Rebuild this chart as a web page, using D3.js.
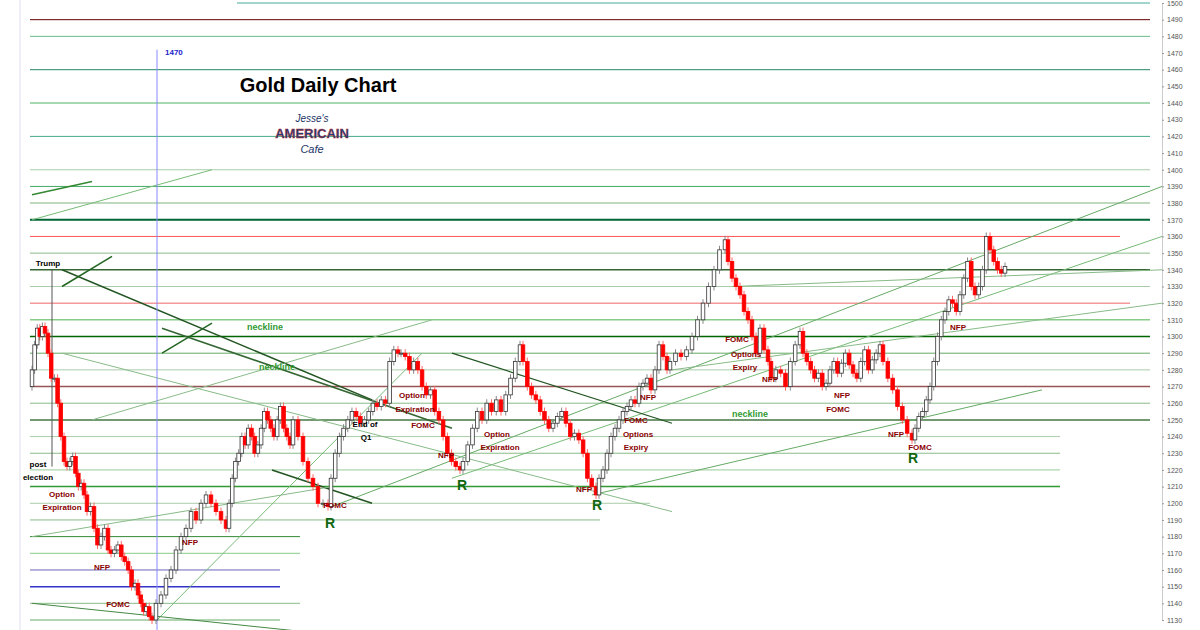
<!DOCTYPE html>
<html><head><meta charset="utf-8">
<script src="https://cdn.jsdelivr.net/npm/d3@7"></script>
<style>body{margin:0;background:#fff}svg{display:block;font-family:Arial,"Liberation Sans",sans-serif}</style>
</head><body>
<svg id="c" width="1200" height="630"></svg>
<script>
// segments of daily closes: [startX, endX (chart units), closes]
const segments = [
[0,13,[1280,1295,1305,1300,1306,1302]],
[16,32,[1290,1275,1275,1260,1240,1225]],
[35,52,[1222,1225,1228,1218,1210,1212,1205]],
[55,76,[1195,1198,1185,1175,1180,1185,1172]],
[79,103,[1170,1172,1175,1168,1165,1160,1150,1152]],
[106,120,[1145,1140,1135,1138,1132,1130]],
[124,194,[1140,1145,1155,1160,1172,1180,1185,1195,1190,1200,1205,1200,1195,1190,1185]],
[197,258,[1200,1215,1225,1230,1240,1235,1245,1240,1230,1235,1245,1255,1250,1245,1240,1250,1258,1245,1240,1235]],
[261,296,[1250,1240,1225,1215,1210,1200,1200,1198]],
[299,366,[1215,1230,1240,1245,1250,1255,1252,1248,1250,1255,1260,1258,1262,1260,1285,1292,1290]],
[369,428,[1290,1288,1280,1285,1280,1270,1265,1268,1255,1250,1240,1230,1225,1222,1220]],
[431,488,[1225,1235,1245,1255,1250,1260,1255,1262,1255,1265,1275,1285,1295]],
[491,564,[1285,1270,1265,1262,1255,1250,1245,1248,1252,1255,1248,1240,1242,1238,1230,1215,1210,1205]],
[567,635,[1215,1220,1230,1240,1245,1250,1255,1258,1262,1260,1270,1272,1275,1268,1280,1295,1288,1280]],
[638,693,[1285,1290,1288,1292,1300,1310,1320,1330,1340,1352,1358]],
[696,736,[1345,1335,1330,1325,1315,1310,1300,1290,1305,1292,1285]],
[739,768,[1275,1280,1278,1270,1285,1295,1303]],
[771,848,[1290,1285,1280,1275,1278,1270,1272,1280,1285,1278,1284,1290,1283,1278,1275,1285,1292,1280,1286,1290,1295]],
[851,880,[1285,1275,1268,1258,1250,1242,1238]],
[883,973,[1245,1252,1255,1262,1270,1285,1300,1310,1315,1322,1320,1315,1325,1335,1345,1330,1325,1330,1340,1360,1352,1345,1340,1338,1342]]];
const firstOpen = 1270;
const ticks = d3.range(1130,1501,10);
const hLines = [
[1500,"#4a9",1,237,1150],[1490,"#600",1,30,1150],[1480,"#6b8",1,30,1150],[1460,"#286",1,30,1150],
[1440,"#8c9",1.5,30,1150],[1420,"#4a8",1,30,1150],[1400,"#aca",1,30,1150],[1390,"#4a6",1,30,1150],
[1380,"#aca",1.5,30,1150],[1370,"#063",2,30,1150],[1360,"#f55",1,30,1120],[1350,"#8b8",1,30,1150],
[1340,"#363",1.5,30,1150],[1330,"#aca",1,30,1150],[1320,"#e66",1,30,1130],[1310,"#8c8",1.5,30,1150],
[1300,"#060",1.5,30,1150],[1290,"#6a6",1,30,1150],[1280,"#aca",1,30,1150],[1270,"#955",1.5,30,1150],
[1260,"#8b8",1,30,1150],[1250,"#474",1.5,30,1150],[1240,"#aca",1,30,1060],[1230,"#8b8",1,30,1060],
[1220,"#9c9",1,30,1060],[1210,"#393",1.5,30,1060],[1200,"#aca",1,30,650],[1190,"#8b8",1,30,600],
[1180,"#383",1,30,300],[1170,"#8c8",1,30,300],[1160,"#66b",1,30,280],[1150,"#33c",1.5,30,280],
[1140,"#8b8",1,30,300],[1130,"#6a6",1,30,280]];
const tLines = [
[300,1198,1130,1390,"#6a6",1],[125,1130,390,1290,"#7b7",1],[420,1215,1130,1360,"#7b7",1],
[560,1205,1010,1268,"#6a6",1],[640,1280,1130,1320,"#8b8",1],[700,1330,1130,1340,"#8b8",1],
[30,1340,340,1262,"#252",1.5],[130,1305,420,1245,"#363",1.5],[30,1290,640,1195,"#8b8",1],
[0,1370,180,1400,"#7b7",1],[240,1220,340,1200,"#252",1.5],
[60,1250,400,1310,"#8b8",1],[420,1290,640,1248,"#252",1.2],[0,1180,300,1210,"#8b8",1],
[0,1140,320,1120,"#484",1],[0,1385,60,1393,"#383",1.5],[30,1330,80,1348,"#262",1.5],[130,1290,180,1308,"#262",1.5]];
const notes = [
["Trump",48,1342,"#000",8],["post",38,1222,"#000",8],["election",38,1214,"#000",8],
["Option",62,1204,"#800",8],["Expiration",62,1196,"#800",8],["NFP",102,1160,"#800",8],
["FOMC",118,1138,"#800",8],["NFP",190,1175,"#800",8],["FOMC",335,1197,"#800",8],
["End of",365,1246,"#000",8],["Q1",366,1238,"#000",8],["Option",412,1263,"#800",8],["Expiration",415,1255,"#800",8],
["FOMC",423,1245,"#800",8],["NFP",446,1227,"#800",8],["Option",497,1240,"#800",8],["Expiration",500,1232,"#800",8],
["NFP",584,1207,"#800",8],["FOMC",636,1248,"#800",8],["Options",638,1240,"#800",8],["Expiry",636,1232,"#800",8],
["NFP",648,1262,"#800",8],["FOMC",737,1297,"#800",8],["Options",746,1288,"#800",8],["Expiry",745,1280,"#800",8],
["NFP",770,1273,"#800",8],["NFP",842,1263,"#800",8],["FOMC",838,1255,"#800",8],["NFP",896,1240,"#800",8],
["FOMC",920,1232,"#800",8],["NFP",958,1304,"#800",8],
["neckline",265,1304,"#393",9],["neckline",277,1280,"#393",9],["neckline",750,1252,"#393",9],
["R",330,1185,"#161",14],["R",462,1208,"#161",14],["R",597,1196,"#161",14],["R",913,1224,"#161",14]];

const svg = d3.select("#c");
const y = d3.scaleLinear().domain([1130,1500]).range([620,3]);
const x = d3.scaleLinear().domain([0,1000]).range([32,1032]);

svg.append("line").attr("x1",20).attr("x2",20).attr("y1",0).attr("y2",630).attr("stroke","#dde");
svg.selectAll(".h").data(hLines).join("line")
 .attr("x1",d=>d[3]).attr("x2",d=>d[4]).attr("y1",d=>y(d[0])).attr("y2",d=>y(d[0]))
 .attr("stroke",d=>d[1]).attr("stroke-width",d=>d[2]);
svg.selectAll(".t").data(tLines).join("line")
 .attr("x1",d=>x(d[0])).attr("x2",d=>x(d[2])).attr("y1",d=>y(d[1])).attr("y2",d=>y(d[3]))
 .attr("stroke",d=>d[4]).attr("stroke-width",d=>d[5]);
svg.append("line").attr("x1",157).attr("x2",157).attr("y1",y(1472)).attr("y2",630).attr("stroke","#88f").attr("stroke-width",1);
svg.append("text").attr("x",165).attr("y",y(1469)).attr("font-size",8).attr("font-weight","bold").attr("fill","#22c").text("1470");
svg.append("line").attr("x1",52).attr("x2",52).attr("y1",y(1340)).attr("y2",y(1222)).attr("stroke","#555");

const bars = [];
let prev = firstOpen;
segments.forEach(([s,e,cs])=>{
  cs.forEach((c,j)=>{
    const t = cs.length>1 ? s+(e-s)*j/(cs.length-1) : s;
    bars.push({t,o:prev,c}); prev=c;
  });
});
const g = svg.append("g");
g.selectAll(".w").data(bars).join("line")
 .attr("x1",d=>x(d.t)).attr("x2",d=>x(d.t))
 .attr("y1",d=>y(Math.max(d.o,d.c))-4).attr("y2",d=>y(Math.min(d.o,d.c))+4)
 .attr("stroke",d=>d.c<d.o?"#f66":"#888");
g.selectAll(".b").data(bars).join("rect")
 .attr("x",d=>x(d.t)-1.8).attr("width",3.6)
 .attr("y",d=>y(Math.max(d.o,d.c))).attr("height",d=>Math.max(1,Math.abs(y(d.o)-y(d.c))))
 .attr("fill",d=>d.c<d.o?"#f00":"#fff").attr("stroke",d=>d.c<d.o?"#f00":"#333").attr("stroke-width",0.8);

svg.selectAll(".n").data(notes).join("text")
 .attr("x",d=>d[1]).attr("y",d=>y(d[2])).attr("text-anchor","middle")
 .attr("font-size",d=>d[4]).attr("font-weight","bold").attr("fill",d=>d[3]).text(d=>d[0]);

const ax = svg.append("g").attr("transform","translate(1162,0)").call(d3.axisRight(y).tickValues(ticks).tickSize(2).tickFormat(d3.format("d")));
ax.select(".domain").attr("stroke","#ccc");
ax.selectAll("text").attr("font-size",7).attr("fill","#555");
ax.selectAll("line").attr("stroke","#999");

svg.append("text").attr("x",318).attr("y",92).attr("text-anchor","middle").attr("font-size",20).attr("font-weight","bold").text("Gold Daily Chart");
const lg = svg.append("g").attr("transform","translate(312,0)").attr("text-anchor","middle");
lg.append("text").attr("y",122).attr("font-size",10).attr("font-style","italic").attr("fill","#236").text("Jesse's");
lg.append("text").attr("y",138).attr("font-size",13).attr("font-weight","bold").attr("fill","#1a3f7a").attr("stroke","#b22").attr("stroke-width",0.4).text("AMERICAIN");
lg.append("text").attr("y",153).attr("font-size",11).attr("font-style","italic").attr("fill","#236").text("Cafe");
</script></body></html>
